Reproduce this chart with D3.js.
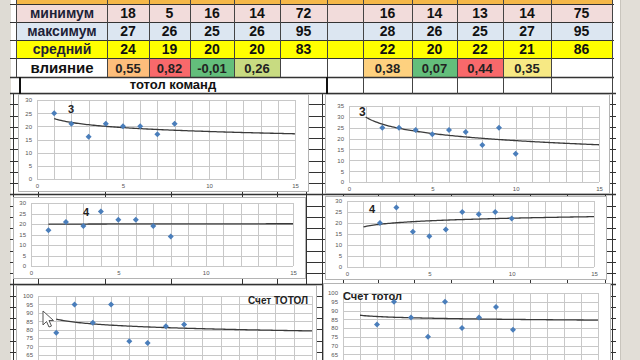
<!DOCTYPE html>
<html>
<head>
<meta charset="utf-8">
<script src="https://cdn.jsdelivr.net/npm/d3@7"></script>
<style>
body { margin: 0; background: #fff; }
svg { display: block; font-family: "Liberation Sans", Arial, sans-serif; }
</style>
</head>
<body>
<svg width="640" height="360"></svg>
<script>
// table rows
var rowLabels = ["минимум", "максимум", "средний", "влияние"];
var minLeft  = [18, 5, 16, 14, 72];
var maxLeft  = [27, 26, 25, 26, 95];
var avgLeft  = [24, 19, 20, 20, 83];
var inflLeft = [0.55, 0.82, -0.01, 0.26];
var minRight  = [16, 14, 13, 14, 75];
var maxRight  = [28, 26, 25, 27, 95];
var avgRight  = [22, 20, 22, 21, 86];
var inflRight = [0.38, 0.07, 0.44, 0.35];
var totalCaption = "тотол команд";

// chart series (game number -> score)
var gamesLeft  = [1, 2, 3, 4, 5, 6, 7, 8];
var gamesRight = [2, 3, 4, 5, 6, 7, 8, 9, 10];
var left3   = [25, 21, 16, 21, 20, 20, 17, 21];
var left4   = [17, 21, 19, 26, 22, 22, 19, 14];
var leftTot = [78, 95, 84, 95, 73, 72, 82, 83];
var right3   = [25, 25, 24, 22, 24, 23, 17, 25, 13];
var right4   = [20, 27, 16, 14, 17, 25, 24, 25, 22];
var rightTot = [82, 95, 86, 75, 95, 80, 86, 92, 79];

var svg = d3.select("svg");

// ---- sheet background ----
svg.append("rect").attr("x", 0).attr("y", 0).attr("width", 11).attr("height", 360).attr("fill", "#dedbd4");
svg.append("rect").attr("x", 620).attr("y", 0).attr("width", 20).attr("height", 360).attr("fill", "#e2ded7");
svg.append("line").attr("x1", 620.5).attr("x2", 620.5).attr("y1", 0).attr("y2", 360).attr("stroke", "#c9c5bd");

// lower sheet grid, mostly hidden under the chart frames
var lowerCols = [13, 38, 105, 171, 242, 277, 306, 322, 343, 378, 414, 451, 493, 530, 567, 605, 612];
var grid = svg.append("g").attr("stroke", "#333").attr("stroke-width", 1);
d3.range(0, 25).forEach(function(k) {
  var y = Math.round(93 + k * 11.25) + 0.5;
  grid.append("line").attr("x1", 10).attr("x2", 616).attr("y1", y).attr("y2", y)
    .attr("stroke-width", (k == 0 || k == 9 || k == 17) ? 1.5 : 1);
});
lowerCols.forEach(function(x) {
  grid.append("line").attr("x1", x + 0.5).attr("x2", x + 0.5).attr("y1", 93).attr("y2", 360);
});

// ---- table ----
var colEdges = [16, 107, 149, 190, 234, 280, 327, 363, 412, 457, 503, 551, 612];
var rowEdges = [4, 22, 40, 58, 77, 93];
var rowFills = ["#f2dcdb", "#dce6f1", "#ffff00", "#ffffff"];
var valueRows = [minLeft.concat([null]).concat(minRight),
                 maxLeft.concat([null]).concat(maxRight),
                 avgLeft.concat([null]).concat(avgRight)];

var table = svg.append("g");
table.append("rect").attr("x", 16).attr("y", 0).attr("width", 596).attr("height", 4).attr("fill", "#f5b849");

rowFills.forEach(function(f, i) {
  table.append("rect").attr("x", 16).attr("y", rowEdges[i])
    .attr("width", 596).attr("height", rowEdges[i + 1] - rowEdges[i]).attr("fill", f);
});

// conditional colour scale, like Excel's 3-colour scale
var loc = d3.formatLocale({decimal: ",", thousands: " ", grouping: [3], currency: ["", ""], minus: "-"});
var fmt = loc.format(".2f");
function colorScale(vals) {
  return d3.scaleLinear()
    .domain([d3.min(vals), d3.median(vals), d3.max(vals)])
    .range(["#63be7b", "#ffeb84", "#f8696b"]);
}
var cLeft = colorScale(inflLeft), cRight = colorScale(inflRight);
var inflCells = inflLeft.map(function(v, i) { return {v: v, col: 1 + i, c: cLeft(v)}; })
  .concat(inflRight.map(function(v, i) { return {v: v, col: 7 + i, c: cRight(v)}; }));

table.selectAll(".infl").data(inflCells).enter().append("rect")
  .attr("x", function(d) { return colEdges[d.col] + 1; })
  .attr("y", rowEdges[3] + 1)
  .attr("width", function(d) { return colEdges[d.col + 1] - colEdges[d.col] - 1; })
  .attr("height", rowEdges[4] - rowEdges[3] - 1)
  .attr("fill", function(d) { return d.c; });

// table lines
rowEdges.forEach(function(y, i) {
  table.append("line").attr("x1", 10).attr("x2", 614).attr("y1", y + 0.5).attr("y2", y + 0.5)
    .attr("stroke", "#333").attr("stroke-width", i == 4 ? 1.5 : 1);
});
colEdges.forEach(function(x) {
  table.append("line").attr("x1", x + 0.5).attr("x2", x + 0.5).attr("y1", 0).attr("y2", 77)
    .attr("stroke", "#444");
});
colEdges.slice(7).forEach(function(x) {
  table.append("line").attr("x1", x + 0.5).attr("x2", x + 0.5).attr("y1", 77).attr("y2", 96).attr("stroke", "#444");
});
table.append("line").attr("x1", 20).attr("x2", 20).attr("y1", 77).attr("y2", 96).attr("stroke", "#111").attr("stroke-width", 2);
table.append("line").attr("x1", 327).attr("x2", 327).attr("y1", 77).attr("y2", 96).attr("stroke", "#111").attr("stroke-width", 2);

// labels and numbers
rowLabels.forEach(function(t, i) {
  table.append("text").attr("x", 62).attr("y", (rowEdges[i] + rowEdges[i + 1]) / 2 + 5)
    .attr("text-anchor", "middle").attr("font-size", i == 3 ? 15 : 14).attr("font-weight", "bold")
    .attr("fill", i == 3 ? "#111" : "#1d2238").text(t);
});
valueRows.forEach(function(row, i) {
  row.forEach(function(v, j) {
    if (v == null) return;
    table.append("text")
      .attr("x", (colEdges[j + 1] + colEdges[j + 2]) / 2)
      .attr("y", (rowEdges[i] + rowEdges[i + 1]) / 2 + 5)
      .attr("text-anchor", "middle").attr("font-size", 14).attr("font-weight", "bold")
      .attr("fill", "#111").text(v);
  });
});
table.selectAll(".inflText").data(inflCells).enter().append("text")
  .attr("x", function(d) { return (colEdges[d.col] + colEdges[d.col + 1]) / 2; })
  .attr("y", (rowEdges[3] + rowEdges[4]) / 2 + 5)
  .attr("text-anchor", "middle").attr("font-size", 13).attr("font-weight", "bold")
  .attr("fill", "#222").text(function(d) { return fmt(d.v); });
table.append("text").attr("x", 173).attr("y", 89).attr("text-anchor", "middle")
  .attr("font-size", 13).attr("font-weight", "bold").attr("fill", "#111").text(totalCaption);

// ---- charts ----
function logTrend(xs, ys) {
  var lx = xs.map(Math.log), mx = d3.mean(lx), my = d3.mean(ys);
  var b = d3.sum(lx, function(v, i) { return (v - mx) * (ys[i] - my); }) /
          d3.sum(lx, function(v) { return (v - mx) * (v - mx); });
  var a = my - b * mx;
  return function(x) { return a + b * Math.log(x); };
}

var charts = [
  {frame: [18, 94, 308, 191], plot: [37, 100, 295, 179], y: [0, 30], xs: gamesLeft, ys: left3,
   title: "3", tx: 68, ty: 113, tsize: 11},
  {frame: [325, 94, 609, 193], plot: [349, 106, 599, 182], y: [0, 35], xs: gamesRight, ys: right3,
   title: "3", tx: 359, ty: 116, tsize: 12},
  {frame: [13, 197, 305, 278], plot: [31, 203, 293, 266], y: [0, 30], xs: gamesLeft, ys: left4,
   title: "4", tx: 83, ty: 216, tsize: 11},
  {frame: [325, 196, 606, 279], plot: [347, 201, 594, 267], y: [0, 30], xs: gamesRight, ys: right4,
   title: "4", tx: 369, ty: 213, tsize: 11},
  {frame: [16, 285, 316, 372], plot: [38, 296, 312, 363], y: [60, 100], xs: gamesLeft, ys: leftTot,
   title: "Счет ТОТОЛ", tx: 248, ty: 304, tsize: 10},
  {frame: [323, 283, 610, 372], plot: [343, 293, 598, 363], y: [60, 100], xs: gamesRight, ys: rightTot,
   title: "Счет тотол", tx: 343, ty: 300, tsize: 11}
];

charts.forEach(function(c) {
  var g = svg.append("g");
  g.append("rect").attr("x", c.frame[0] + 0.5).attr("y", c.frame[1] + 0.5)
    .attr("width", c.frame[2] - c.frame[0]).attr("height", c.frame[3] - c.frame[1])
    .attr("fill", "#fff").attr("stroke", "#b4b4b4");

  var x = d3.scaleLinear().domain([0, 15]).range([c.plot[0], c.plot[2]]);
  var y = d3.scaleLinear().domain(c.y).range([c.plot[3], c.plot[1]]);

  var gridG = g.append("g").attr("stroke", "#c8c8c8").attr("stroke-width", 1);
  d3.range(0, 16).forEach(function(v) {
    gridG.append("line").attr("x1", Math.round(x(v)) + 0.5).attr("x2", Math.round(x(v)) + 0.5)
      .attr("y1", c.plot[1]).attr("y2", c.plot[3]);
  });
  d3.range(c.y[0], c.y[1] + 1, 5).forEach(function(v) {
    gridG.append("line").attr("x1", c.plot[0]).attr("x2", c.plot[2])
      .attr("y1", Math.round(y(v)) + 0.5).attr("y2", Math.round(y(v)) + 0.5);
  });

  // axis labels (the lower charts run past the bottom edge, so only those on screen)
  var yTicks = d3.range(c.y[0], c.y[1] + 1, 5).filter(function(v) { return y(v) < 358; });
  var yAxis = d3.axisLeft(y).tickValues(yTicks).tickSize(0).tickPadding(5);
  var ya = g.append("g").attr("transform", "translate(" + c.plot[0] + ",0)").call(yAxis);
  var axes = [ya];
  if (c.plot[3] < 340) {
    var xAxis = d3.axisBottom(x).tickValues([0, 5, 10, 15]).tickSize(0).tickPadding(5);
    axes.push(g.append("g").attr("transform", "translate(0," + c.plot[3] + ")").call(xAxis));
  }
  axes.forEach(function(a) {
    a.select(".domain").remove();
    a.selectAll("text").attr("font-size", 6).attr("fill", "#555")
      .attr("font-family", "'Liberation Sans', Arial, sans-serif");
  });

  // trend line
  var f = logTrend(c.xs, c.ys);
  var tx = d3.range(1, 15.01, 0.1);
  g.append("path").datum(tx)
    .attr("d", d3.line().x(function(v) { return x(v); }).y(function(v) { return y(f(v)); }))
    .attr("fill", "none").attr("stroke", "#3a3a3a").attr("stroke-width", 1.3);

  // points
  g.selectAll(".pt").data(c.xs).enter().append("path")
    .attr("d", d3.symbol(d3.symbolSquare, 18))
    .attr("transform", function(d, i) { return "translate(" + x(d) + "," + y(c.ys[i]) + ") rotate(45)"; })
    .attr("fill", "#4a7ebb");

  g.append("text").attr("x", c.tx).attr("y", c.ty).attr("font-size", c.tsize)
    .attr("font-weight", "bold").attr("fill", "#222").text(c.title);
});

// mouse pointer seen over the lower-left chart
svg.append("path")
  .attr("d", "M0,0 L0,14 L3.5,10.5 L6,16 L8.5,15 L6,9.5 L10.5,9.5 Z")
  .attr("transform", "translate(43,311)")
  .attr("fill", "#fff").attr("stroke", "#555").attr("stroke-width", 1);
</script>
</body>
</html>
